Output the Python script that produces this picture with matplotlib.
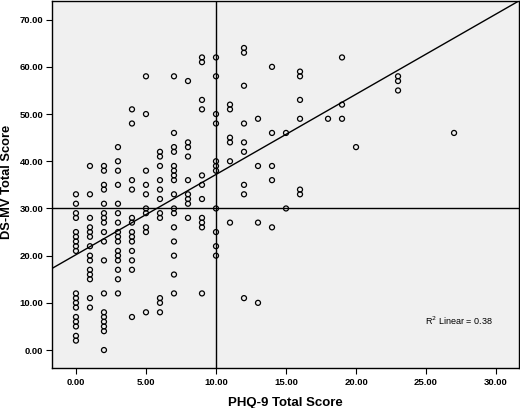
import matplotlib
matplotlib.use("Agg")
import matplotlib.pyplot as plt
import numpy as np

phq_scores = [0, 1, 2, 3, 4, 5, 6, 7, 8, 9, 10, 11, 12, 13, 14, 15, 16, 18, 19, 20, 23, 27]
dsmv_by_phq = [
    [33, 31, 29, 28, 25, 24, 23, 22, 21, 12, 11, 10, 9, 7, 6, 5, 3, 2],
    [39, 33, 28, 26, 25, 24, 22, 20, 19, 17, 16, 15, 11, 9],
    [39, 38, 35, 34, 31, 29, 28, 27, 25, 23, 19, 12, 8, 7, 6, 5, 4, 0],
    [43, 40, 38, 35, 31, 29, 27, 25, 24, 23, 21, 20, 19, 17, 15, 12],
    [51, 48, 36, 34, 28, 27, 25, 24, 23, 21, 19, 17, 7],
    [58, 50, 38, 35, 33, 30, 29, 26, 25, 8],
    [42, 41, 39, 36, 34, 32, 29, 28, 11, 10, 8],
    [58, 46, 43, 42, 39, 38, 37, 36, 33, 30, 29, 26, 23, 20, 16, 12],
    [57, 44, 43, 41, 36, 33, 32, 31, 28],
    [62, 61, 53, 51, 37, 35, 32, 28, 27, 26, 12],
    [62, 58, 50, 48, 40, 39, 38, 30, 25, 22, 20],
    [52, 51, 45, 44, 40, 27],
    [64, 63, 56, 48, 44, 42, 35, 33, 11],
    [49, 39, 27, 10],
    [60, 46, 39, 36, 26],
    [46, 30],
    [59, 58, 53, 49, 34, 33],
    [49],
    [62, 52, 49],
    [43],
    [58, 57, 55],
    [46],
]

# fit line as printed by the chart
fit_intercept = 20.2
fit_slope = 1.70
r2_text = "R$^2$ Linear = 0.38"

x_ref = 10
y_ref = 30

xticks = [0, 5, 10, 15, 20, 25, 30]
yticks = [0, 10, 20, 30, 40, 50, 60, 70]

xs = []
ys = []
for p, vals in zip(phq_scores, dsmv_by_phq):
    for v in vals:
        xs.append(p)
        ys.append(v)

plt.rcParams['font.family'] = ['Liberation Sans', 'DejaVu Sans']

W, H = 520, 408
fig = plt.figure(figsize=(5.2, 4.08), dpi=100)
ax = fig.add_axes([52.3 / W, 1 - 367.7 / H, (519.3 - 52.3) / W, (367.7 - 0.8) / H])
ax.set_facecolor('#f0f0f0')

xlim = (-1.69, 31.66)
ylim = (-3.74, 74.0)
ax.set_xlim(*xlim)
ax.set_ylim(*ylim)

ax.axvline(x_ref, color='black', lw=1.0, zorder=1)
ax.axhline(y_ref, color='black', lw=1.0, zorder=1)

lx = np.array(xlim)
ax.plot(lx, fit_intercept + fit_slope * lx, color='black', lw=1.0, zorder=2)

ax.scatter(xs, ys, s=13, facecolors='none', edgecolors='black', linewidths=0.9, zorder=3)

ax.text(24.9, 6.2, r2_text, fontsize=6.5, va='center', ha='left')

ax.set_xticks(xticks)
ax.set_yticks(yticks)
ax.set_xticklabels([f"{t:.2f}" for t in xticks])
ax.set_yticklabels([f"{t:.2f}" for t in yticks])
ax.tick_params(direction='out', length=4.5, width=0.8, labelsize=6.8)
ax.tick_params(axis='x', pad=3)
ax.tick_params(axis='y', pad=2)
for lab in ax.get_xticklabels() + ax.get_yticklabels():
    lab.set_fontweight('bold')

for s in ax.spines.values():
    s.set_linewidth(1.0)

fig.text(285.8 / W, 1 - 406 / H, "PHQ-9 Total Score", fontsize=9.5,
         fontweight='bold', ha='center', va='baseline')
fig.text(7.5 / W, 1 - 181.5 / H, "DS-MV Total Score", fontsize=9.3,
         fontweight='bold', ha='center', va='center', rotation=90)

fig.savefig("out.png", dpi=100)
